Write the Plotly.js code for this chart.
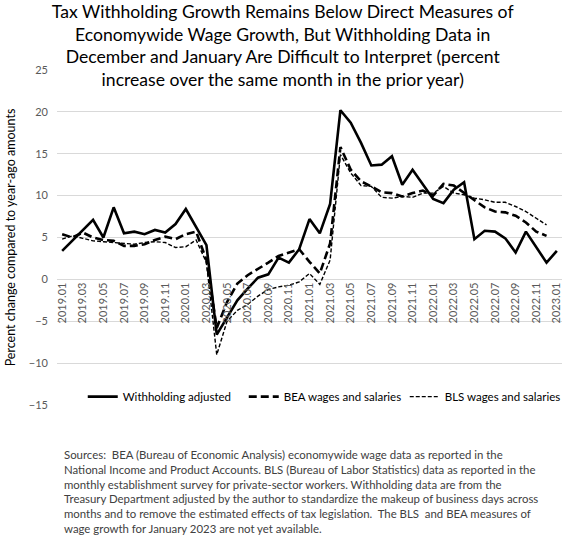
<!DOCTYPE html>
<html>
<head>
<meta charset="utf-8">
<script src="https://cdn.plot.ly/plotly-3.0.1.min.js"></script>
<style>
  html, body { margin: 0; padding: 0; background: #fff; }
  #chart { width: 577px; height: 553px; }
</style>
</head>
<body>
<div id="chart"></div>
<script>
// Month labels, January 2019 through January 2023
const months = [
  "2019.01","2019.02","2019.03","2019.04","2019.05","2019.06","2019.07","2019.08","2019.09","2019.10","2019.11","2019.12",
  "2020.01","2020.02","2020.03","2020.04","2020.05","2020.06","2020.07","2020.08","2020.09","2020.10","2020.11","2020.12",
  "2021.01","2021.02","2021.03","2021.04","2021.05","2021.06","2021.07","2021.08","2021.09","2021.10","2021.11","2021.12",
  "2022.01","2022.02","2022.03","2022.04","2022.05","2022.06","2022.07","2022.08","2022.09","2022.10","2022.11","2022.12",
  "2023.01"
];

// Every other month is labelled on the axis
const tickMonths = [
  "2019.01","2019.03","2019.05","2019.07","2019.09","2019.11",
  "2020.01","2020.03","2020.05","2020.07","2020.09","2020.11",
  "2021.01","2021.03","2021.05","2021.07","2021.09","2021.11",
  "2022.01","2022.03","2022.05","2022.07","2022.09","2022.11",
  "2023.01"
];

// Percent change over the same month a year earlier
const withholdingAdjusted = [
  3.4, 4.6, 5.8, 7.1, 5.0, 8.6, 5.5, 5.7, 5.4, 5.9, 5.6, 6.6,
  8.4, 6.3, 4.1, -6.6, -4.5, -2.5, -1.1, 0.2, 0.6, 2.6, 2.0, 3.6,
  7.2, 5.5, 9.0, 20.2, 18.7, 16.3, 13.6, 13.7, 14.7, 11.3, 13.1, 11.4,
  9.6, 9.1, 10.7, 11.6, 4.8, 5.8, 5.7, 4.9, 3.2, 5.7, 3.9, 2.0,
  3.4
];

// BEA and BLS measures run through December 2022
const beaWages = [
  5.4, 5.0, 5.6, 5.0, 4.7, 4.6, 4.0, 4.0, 4.2, 4.7, 5.1, 4.8,
  5.4, 5.7, 2.3, -5.8, -2.7, -0.5, 0.5, 1.2, 2.0, 2.8, 3.2, 3.6,
  2.1, 0.7, 4.3, 15.8, 13.1, 11.7, 11.1, 10.4, 10.3, 9.9, 10.3, 10.6,
  10.0, 11.4, 11.2, 10.3, 9.5, 8.6, 8.1, 8.0, 7.6, 6.8, 5.7, 5.2
];

const blsWages = [
  4.8, 5.2, 4.9, 4.6, 4.5, 4.4, 4.3, 4.2, 4.4, 4.5, 4.4, 3.8,
  3.9, 4.7, 2.0, -9.0, -5.0, -3.7, -3.0, -2.0, -1.2, -0.9, -0.7, -0.3,
  0.7, -0.6, 2.3, 14.9, 12.7, 11.2, 11.1, 9.8, 9.7, 9.9, 9.8, 10.3,
  10.3, 11.1, 10.3, 10.1, 9.7, 9.5, 9.2, 9.2, 8.7, 8.1, 7.3, 6.5
];

const yMin = -15, yMax = 25;
const FONT = "Lato, 'Open Sans', sans-serif";

const traces = [
  {
    name: "Withholding adjusted",
    x: months, y: withholdingAdjusted,
    type: "scatter", mode: "lines",
    line: { color: "#000000", width: 2.6 }
  },
  {
    name: "BEA wages and salaries",
    x: months.slice(0, beaWages.length), y: beaWages,
    type: "scatter", mode: "lines",
    line: { color: "#000000", width: 2.6, dash: "8px,4px" }
  },
  {
    name: "BLS wages and salaries",
    x: months.slice(0, blsWages.length), y: blsWages,
    type: "scatter", mode: "lines",
    line: { color: "#000000", width: 1.4, dash: "4px,2px" }
  }
];

const sourceNote =
  "Sources:&nbsp; BEA (Bureau of Economic Analysis) economywide wage data as reported in the<br>" +
  "National Income and Product Accounts. BLS (Bureau of Labor Statistics) data as reported in the<br>" +
  "monthly establishment survey for private-sector workers. Withholding data are from the<br>" +
  "Treasury Department adjusted by the author to standardize the makeup of business days across<br>" +
  "months and to remove the estimated effects of tax legislation.&nbsp; The BLS&nbsp; and BEA measures of<br>" +
  "wage growth for January 2023 are not yet available.";

const layout = {
  width: 577,
  height: 553,
  paper_bgcolor: "#ffffff",
  plot_bgcolor: "#ffffff",
  margin: { l: 57, r: 15, t: 70, b: 148, autoexpand: false },
  font: { family: FONT, color: "#595959", size: 11 },
  title: {
    text: "Tax Withholding Growth Remains Below Direct Measures of<br>" +
          "Economywide Wage Growth, But Withholding Data in<br>" +
          "December and January Are Difficult to Interpret (percent<br>" +
          "increase over the same month in the prior year)",
    font: { family: FONT, size: 17.6, color: "#000000" },
    xref: "container", x: 0.49, xanchor: "center",
    yref: "container", y: 0.968, yanchor: "top"
  },
  xaxis: {
    type: "category",
    categoryorder: "array",
    categoryarray: months,
    range: [-0.5, months.length - 0.5],
    tickmode: "array",
    tickvals: tickMonths,
    ticktext: tickMonths,
    tickangle: -90,
    tickfont: { family: FONT, size: 11, color: "#595959" },
    showgrid: false,
    showline: false,
    zeroline: false,
    ticks: "",
    // Category labels hang from the zero line
    anchor: "free",
    position: (0 - yMin) / (yMax - yMin)
  },
  yaxis: {
    range: [yMin, yMax],
    dtick: 5,
    tick0: 0,
    showgrid: true,
    gridcolor: "#d9d9d9",
    gridwidth: 1,
    zeroline: true,
    zerolinecolor: "#d9d9d9",
    zerolinewidth: 1,
    showline: false,
    ticks: "",
    ticklabelstandoff: 8,
    tickfont: { family: FONT, size: 11, color: "#595959" },
    title: {
      text: "Percent change compared to year-ago amounts",
      font: { family: FONT, size: 12.5, color: "#000000" },
      standoff: 10
    }
  },
  showlegend: true,
  legend: {
    orientation: "h",
    x: 0.051, xanchor: "left",
    y: 0.025, yanchor: "middle",
    bgcolor: "rgba(255,255,255,0)",
    font: { family: FONT, size: 11.5, color: "#000000" },
    itemwidth: 30,
    entrywidthmode: "pixels",
    entrywidth: 116,
    tracegroupgap: 0
  },
  annotations: [
    {
      text: sourceNote,
      xref: "paper", yref: "paper",
      x: 0.01, xanchor: "left",
      y: -0.122, yanchor: "top",
      align: "left",
      showarrow: false,
      font: { family: FONT, size: 11.4, color: "#404040" }
    }
  ]
};

Plotly.newPlot("chart", traces, layout, { displayModeBar: false, staticPlot: true });
</script>
</body>
</html>
